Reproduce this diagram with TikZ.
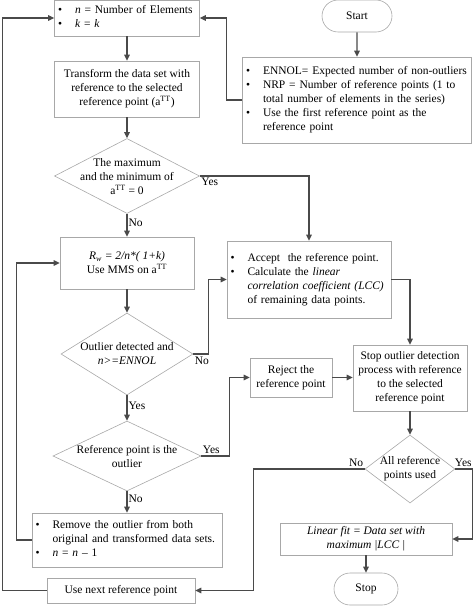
\documentclass[tikz,border=0pt]{standalone}
\usepackage{fontspec}
\setmainfont{Liberation Serif}
\usetikzlibrary{arrows.meta,shapes.geometric,shapes.misc}
\definecolor{linec}{HTML}{4A4A4A}
\definecolor{boxc}{HTML}{A8A8A8}
\newcommand{\bl}{\textbullet}
\begin{document}
\begin{tikzpicture}[x=1pt,y=-1pt,
  every node/.style={font=\fontsize{11.5}{14}\selectfont},
  box/.style={draw=boxc, line width=0.6pt, inner sep=0pt, align=center},
  bbox/.style={draw=boxc, line width=0.6pt, inner xsep=3.5pt, inner ysep=0pt, align=left},
  dia/.style={draw=boxc, line width=0.6pt, diamond, inner sep=0pt},
  term/.style={draw=boxc, line width=0.6pt, rounded rectangle, inner sep=0pt},
  arr/.style={draw=linec, line width=1.1pt, -{Triangle[length=6pt,width=5.5pt]}},
  lab/.style={inner sep=1pt}
]
\useasboundingbox (0,0) rectangle (474,607);

% main column
\node[bbox, text width=138pt, minimum height=36pt] (b1) at (127,18)
  {\begin{tabular}{@{}l@{\hspace{13pt}}l@{}}\bl & \textit{n} = Number of Elements\\ \bl & \textit{k} = \textit{k}\end{tabular}};
\node[box, minimum width=145pt, minimum height=56pt] (b2) at (127,89)
  {Transform the data set with\\reference to the selected\\reference point (a\textsuperscript{TT})};
\node[dia, minimum width=145pt, minimum height=75pt] (d1) at (127,176) {};
\node[align=center] (d1t) at (127,177) {The maximum\\and the minimum of\\a\textsuperscript{TT} = 0};
\node[box, minimum width=134pt, minimum height=52pt] (b4) at (127,263)
  {\textit{R\textsubscript{w} = 2/n*( 1+k)}\\Use MMS on a\textsuperscript{TT}};
\node[dia, minimum width=132pt, minimum height=82pt] (d2) at (127,354) {};
\node[align=center] (d2t) at (127,354) {Outlier detected and\\\textit{n>=ENNOL}};
\node[dia, minimum width=148pt, minimum height=70pt] (d3) at (127,456) {};
\node[align=center] (d3t) at (127,457) {Reference point is the\\outlier};
\node[bbox, text width=183pt, minimum height=54pt] (rem) at (127,540)
  {\begin{tabular}{@{}l@{\hspace{13pt}}l@{}}\bl & Remove the outlier from both\\ & original and transformed data sets.\\ \bl & \textit{n} = \textit{n} -- 1\end{tabular}};
\node[box, minimum width=148pt, minimum height=25pt] (next) at (121,590.5) {Use next reference point};

% right side
\node[term, minimum width=70pt, minimum height=32pt] (start) at (357,16) {Start};
\node[bbox, text width=222pt, minimum height=86pt] (b3) at (357,100)
  {\begin{tabular}{@{}l@{\hspace{13pt}}l@{}}\bl & ENNOL= Expected number of non-outliers\\ \bl & NRP = Number of reference points (1 to\\ & total number of elements in the series)\\ \bl & Use the first reference point as the\\ & reference point\end{tabular}};
\node[bbox, text width=157pt, minimum height=77pt] (acc) at (309,279.5)
  {\begin{tabular}{@{}l@{\hspace{13pt}}l@{}}\bl & Accept\ \ the reference point.\\ \bl & Calculate the \textit{linear}\\ & \textit{correlation coefficient (LCC)}\\ & of remaining data points.\end{tabular}};
\node[box, minimum width=82pt, minimum height=39pt] (rej) at (291,377.5) {Reject the\\reference point};
\node[box, minimum width=114pt, minimum height=66pt] (stp) at (410,378)
  {Stop outlier detection\\process with reference\\to the selected\\reference point};
\node[dia, minimum width=90pt, minimum height=68pt] (d4) at (410,469) {};
\node[align=center] (d4t) at (410,469) {All reference\\points used};
\node[box, minimum width=172pt, minimum height=32pt] (lin) at (366,539)
  {\textit{Linear fit = Data set with}\\\textit{maximum |LCC |}};
\node[term, minimum width=64pt, minimum height=32pt] (stop) at (366,589) {Stop};

% connectors
\draw[arr] (start) -- (b3);
\draw[arr] (b3.west) -- ++(-16,0) |- (b1.east);
\draw[arr] (b1) -- (b2);
\draw[arr] (b2) -- (d1);
\draw[arr] (d1) -- node[lab, right, pos=0.4] (l1) {No} (b4);
\draw[arr] (d1.east) node[lab, below right] (l2) {Yes} -| (acc.north);
\draw[arr] (b4) -- (d2);
\draw[arr] (d2.east) node[lab, below right, yshift=-1pt] (l3) {No} -- ++(15,0) |- (acc.west);
\draw[arr] (d2) -- node[lab, right, pos=0.4] (l4) {Yes} (d3);
\draw[arr] (d3) -- node[lab, right, pos=0.35] (l5) {No} (rem);
\draw[arr] (d3.east) node[lab, above right, yshift=1pt] (l6) {Yes} -- ++(28,0) |- (rej.west);
\draw[arr] (acc.east) -| (stp.north);
\draw[arr] (rej.east) -- (rej.east -| stp.west);
\draw[arr] (stp) -- (d4);
\draw[arr] (d4.west) node[lab, above left, yshift=1pt] (l7) {No} -- ++(-111,0) |- (next.east);
\draw[arr] (d4.east) node[lab, above right, xshift=-2pt, yshift=1pt] (l8) {Yes} -- ++(17,0) |- (lin.east);
\draw[arr] (lin) -- (stop);
\draw[arr] (rem.west) -- ++(-15,0) |- (b4.west);
\draw[arr] (next.west) -- ++(-44,0) |- (b1.west);
\end{tikzpicture}
\end{document}
